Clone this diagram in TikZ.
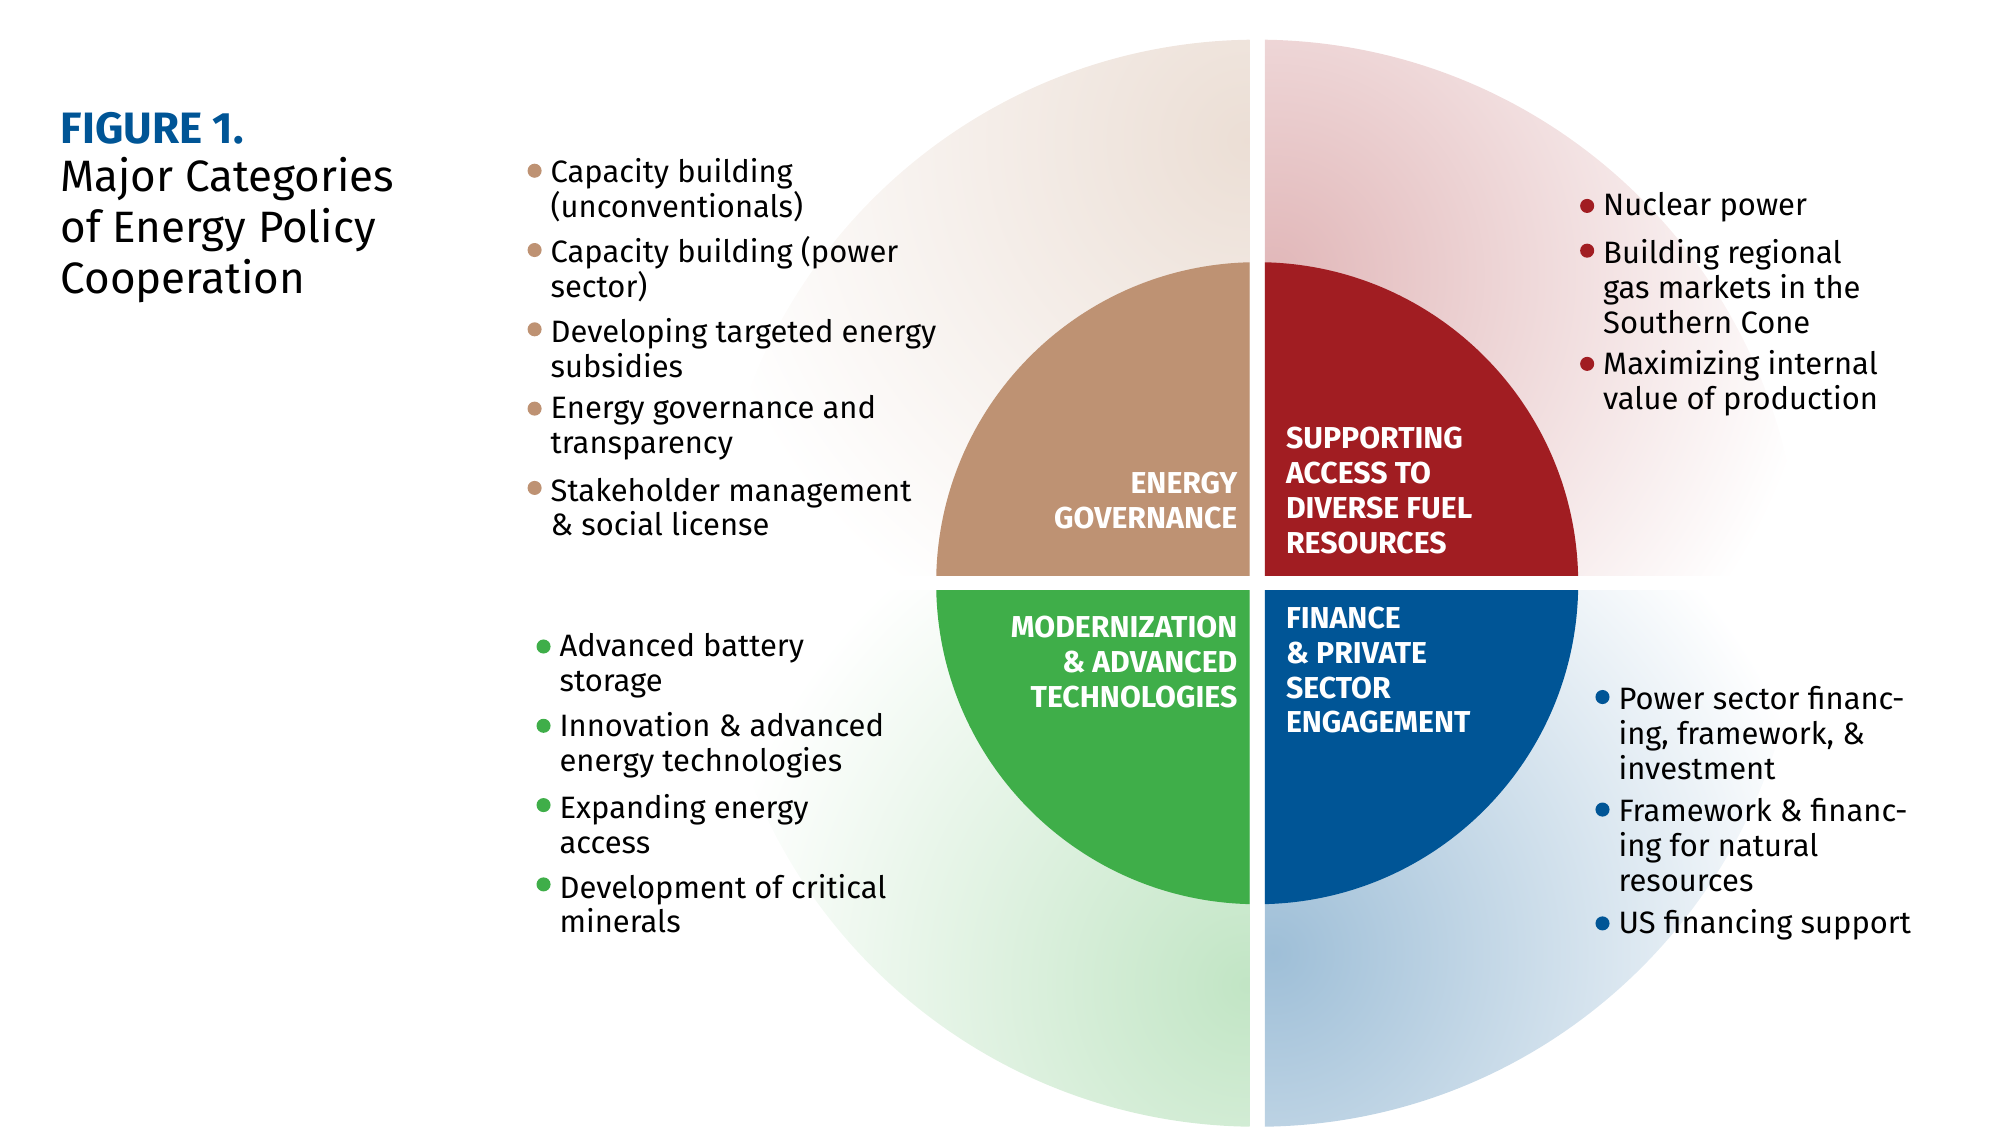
\documentclass[tikz,border=0pt]{standalone}
\usepackage{fontspec}
\setmainfont{Fira Sans}
\definecolor{cbrown}{RGB}{190,146,115}
\definecolor{cred}{RGB}{161,29,34}
\definecolor{cgreen}{RGB}{63,174,73}
\definecolor{cblue}{RGB}{0,85,150}
\begin{document}
\begin{tikzpicture}[x=0.01279cm,y=-0.01279cm,
  item/.style={anchor=west,align=left,inner sep=0,font=\fontsize{8.8}{9.9}\selectfont},
  lab/.style={inner sep=0,text=white,font=\bfseries\fontsize{8.6}{9.9}\selectfont},
  dot/.style={circle,inner sep=0,minimum size=4pt}]
\useasboundingbox (0,0) rectangle (1556,883);
% quadrants
\begin{scope}\clip (0,0) rectangle (977,450); \clip (983,456) circle (425);
 \shade[inner color=cbrown!30,outer color=white] (975,110) circle (440);
 \fill[cbrown] (983,456) circle (251);\end{scope}
\begin{scope}\clip (989,0) rectangle (1556,450); \clip (983,456) circle (425);
 \shade[inner color=cred!32,outer color=white] (995,215) circle (430);
 \fill[cred] (983,456) circle (251);\end{scope}
\begin{scope}\clip (0,462) rectangle (977,883); \clip (983,456) circle (425);
 \shade[inner color=cgreen!32,outer color=white] (975,770) circle (420);
 \fill[cgreen] (983,456) circle (251);\end{scope}
\begin{scope}\clip (989,462) rectangle (1556,883); \clip (983,456) circle (425);
 \shade[inner color=cblue!38,outer color=white] (995,745) circle (440);
 \fill[cblue] (983,456) circle (251);\end{scope}
% title
\node[anchor=west,inner sep=0,text=cblue,font=\bfseries\fontsize{12.5}{14.5}\selectfont] (fig) at (47,100) {FIGURE 1.};
\node[anchor=west,align=left,inner sep=0,font=\fontsize{12.5}{14.5}\selectfont] (title) at (47,180) {Major Categories\\of Energy Policy\\Cooperation};
% inner labels
\node[lab,anchor=east,align=right] (eg) at (968,391.5) {ENERGY\\GOVERNANCE};
\node[lab,anchor=west,align=left] (sa) at (1005,383.5) {SUPPORTING\\ACCESS TO\\DIVERSE FUEL\\RESOURCES};
\node[lab,anchor=east,align=right] (ma) at (968,517.5) {MODERNIZATION\\\& ADVANCED\\TECHNOLOGIES};
\node[lab,anchor=west,align=left] (fp) at (1005,524) {FINANCE\\\& PRIVATE\\SECTOR\\ENGAGEMENT};
% top-left items
\foreach \n/\y/\t in {a/148.5/{Capacity building\\(unconventionals)},b/210.5/{Capacity building (power\\sector)},c/272.5/{Developing targeted energy\\subsidies},d/334.5/{Energy governance and\\transparency},e/396.5/{Stakeholder management\\\& social license}}{
 \node[dot,fill=cbrown] (tl\n d) at (418,\y-15) {};
 \node[item] (tl\n) at (430,\y) {\t};}
\foreach \n/\y/\dy/\t in {a/162/1/{Nuclear power},b/224/28/{Building regional\\gas markets in the\\Southern Cone},c/299.5/15/{Maximizing internal\\value of production}}{
 \node[dot,fill=cred] (tr\n d) at (1241,\y-\dy) {};
 \node[item] (tr\n) at (1253,\y) {\t};}
\foreach \n/\y/\t in {a/520.5/{Advanced battery\\storage},b/582.5/{Innovation \& advanced\\energy technologies},c/644.5/{Expanding energy\\access},d/706.5/{Development of critical\\minerals}}{
 \node[dot,fill=cgreen] (bl\n d) at (425,\y-15) {};
 \node[item] (bl\n) at (437,\y) {\t};}
\foreach \n/\y/\dy/\t in {a/573/28/{Power sector financ-\\ing, framework, \&\\investment},b/661/28/{Framework \& financ-\\ing for natural\\resources},c/723/1/{US financing support}}{
 \node[dot,fill=cblue] (br\n d) at (1253,\y-\dy) {};
 \node[item] (br\n) at (1265,\y) {\t};}
\end{tikzpicture}
\end{document}
